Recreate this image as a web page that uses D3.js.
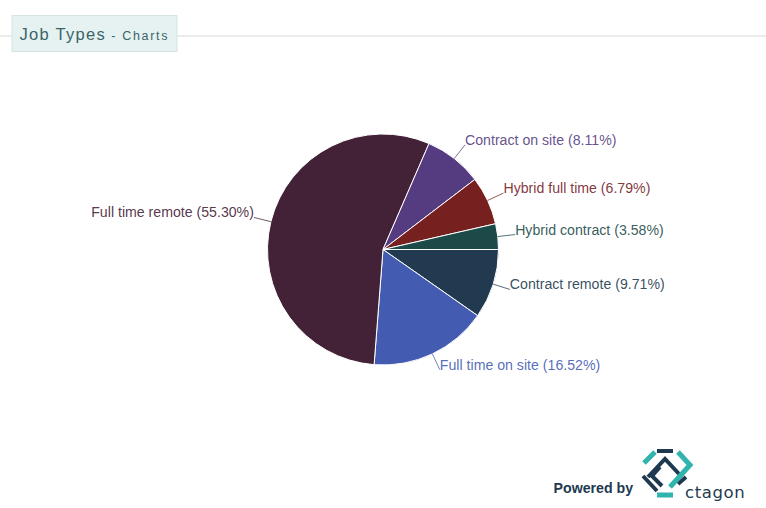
<!DOCTYPE html>
<html>
<head>
<meta charset="utf-8">
<script src="https://cdn.jsdelivr.net/npm/d3@7"></script>
<style>
  html, body { margin: 0; padding: 0; background: #fff; }
  svg { display: block; font-family: "Liberation Sans", Arial, sans-serif; }
</style>
</head>
<body>
<div id="chart"></div>
<script>
const categories = ["Contract remote", "Full time on site", "Full time remote", "Contract on site", "Hybrid full time", "Hybrid contract"];
const shares = [9.71, 16.52, 55.30, 8.11, 6.79, 3.58];
const colors = ["#223a4f", "#435cb1", "#432136", "#553c80", "#76211f", "#1b4a49"];

const width = 766, height = 508;
const cx = 383, cy = 249.5, radius = 115.5, labelRadius = 133;

const svg = d3.select("#chart").append("svg")
  .attr("width", width)
  .attr("height", height);

// title bar
svg.append("line")
  .attr("x1", 0).attr("x2", width)
  .attr("y1", 36).attr("y2", 36)
  .attr("stroke", "#e3e6e6").attr("stroke-width", 1.5);
svg.append("rect")
  .attr("x", 12).attr("y", 15.5)
  .attr("width", 165).attr("height", 36)
  .attr("fill", "#e6f2f1").attr("stroke", "#d5e3e2");
const title = svg.append("text")
  .attr("x", 19.5).attr("y", 39.5)
  .attr("fill", "#3a6468")
  .style("letter-spacing", "1.3px")
  .style("font-size", "16.5px")
  .text("Job Types");
title.append("tspan")
  .style("font-size", "12.5px")
  .style("letter-spacing", "1.7px")
  .attr("dx", 5)
  .text("- Charts");

// pie, clockwise from 3 o'clock
const pie = d3.pie()
  .sort(null)
  .startAngle(Math.PI / 2)
  .endAngle(Math.PI / 2 + 2 * Math.PI);
const arcs = pie(shares);
const arc = d3.arc().innerRadius(0).outerRadius(radius);
const labelArc = d3.arc().innerRadius(labelRadius).outerRadius(labelRadius);
const edgeArc = d3.arc().innerRadius(radius).outerRadius(radius);

const g = svg.append("g").attr("transform", `translate(${cx},${cy})`);

g.selectAll("path.slice")
  .data(arcs)
  .enter()
  .append("path")
  .attr("class", "slice")
  .attr("d", arc)
  .attr("fill", (d, i) => colors[i])
  .attr("stroke", "#fff")
  .attr("stroke-width", 1);

g.selectAll("line.leader")
  .data(arcs)
  .enter()
  .append("line")
  .attr("class", "leader")
  .attr("x1", (d) => edgeArc.centroid(d)[0])
  .attr("y1", (d) => edgeArc.centroid(d)[1])
  .attr("x2", (d) => labelArc.centroid(d)[0])
  .attr("y2", (d) => labelArc.centroid(d)[1])
  .attr("stroke", (d, i) => colors[i])
  .attr("stroke-opacity", 0.75);

g.selectAll("text.label")
  .data(arcs)
  .enter()
  .append("text")
  .attr("class", "label")
  .attr("x", (d) => labelArc.centroid(d)[0])
  .attr("y", (d) => labelArc.centroid(d)[1])
  .attr("text-anchor", (d) => (labelArc.centroid(d)[0] < 0 ? "end" : "start"))
  .attr("fill", (d, i) => colors[i])
  .attr("fill-opacity", 0.9)
  .style("font-size", "14.15px")
  .text((d, i) => `${categories[i]} (${shares[i].toFixed(2)}%)`);

// footer logo
svg.append("text")
  .attr("x", 553.5).attr("y", 493)
  .attr("fill", "#223a4f")
  .style("font-size", "14.2px")
  .style("font-weight", "bold")
  .text("Powered by");

const logo = svg.append("g").attr("fill", "none");
logo.append("path").attr("stroke", "#1f3a50").attr("stroke-width", 4)
  .attr("d", "M657,451H673M648,477L665,459L680,475M643,476L657,491M660,467L652,476L662,486M678,484L686,477");
logo.append("path").attr("stroke", "#2fb5ad").attr("stroke-width", 5)
  .attr("d", "M644,463L655,452M678,452L690,465L670,487M657,495H673");

svg.append("text")
  .attr("x", 685).attr("y", 498)
  .attr("fill", "#223a4f")
  .style("font-family", "'DejaVu Sans', sans-serif")
  .style("font-size", "16.5px")
  .style("letter-spacing", "0.6px")
  .text("ctagon");
</script>
</body>
</html>
